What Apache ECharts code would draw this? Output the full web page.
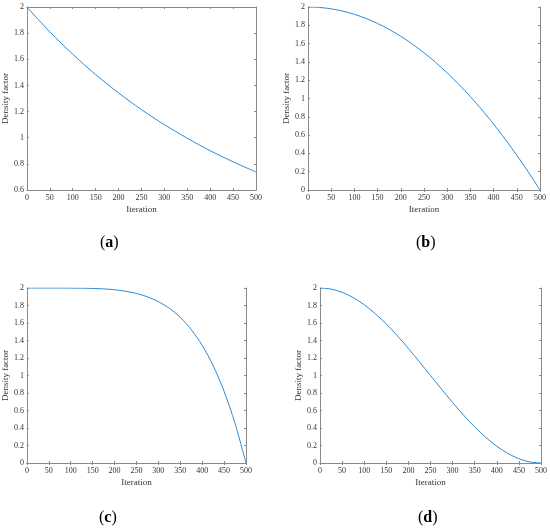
<!DOCTYPE html>
<html>
<head>
<meta charset="utf-8">
<script src="https://cdn.jsdelivr.net/npm/echarts@6/dist/echarts.min.js"></script>
<style>html,body{margin:0;padding:0;background:#fff;}#c{width:550px;height:531px;}</style>
</head>
<body>
<div id="c"></div>
<script>
const iterations = [0,25,50,75,100,125,150,175,200,225,250,275,300,325,350,375,400,425,450,475,500];
const xTicks = [0,50,100,150,200,250,300,350,400,450,500];
const densityA = [2.000,1.903,1.810,1.722,1.639,1.559,1.483,1.411,1.343,1.277,1.215,1.156,1.100,1.047,0.996,0.947,0.901,0.857,0.816,0.776,0.738];
const densityB = [2.00,1.995,1.98,1.955,1.92,1.875,1.82,1.755,1.68,1.595,1.50,1.395,1.28,1.155,1.02,0.875,0.72,0.555,0.38,0.195,0.00];
const densityC = [2.00,2.00,2.00,2.00,1.999,1.998,1.995,1.99,1.98,1.963,1.938,1.899,1.844,1.768,1.664,1.525,1.345,1.113,0.819,0.452,0.00];
const densityD = [2.00,1.988,1.951,1.891,1.809,1.707,1.588,1.454,1.309,1.156,1.00,0.844,0.691,0.546,0.412,0.293,0.191,0.109,0.049,0.012,0.00];
const captions = ['a','b','c','d'];
const yMins = [0.6,0,0,0];

const panels = [
  {grid:{left:24,top:7,width:232,height:183}, data:densityA, cap:{x:112,y:245}},
  {grid:{left:308,top:7,width:232,height:183}, data:densityB, cap:{x:428,y:245}},
  {grid:{left:24,top:288,width:222,height:175}, data:densityC, cap:{x:111,y:520}},
  {grid:{left:320,top:288,width:221,height:175}, data:densityD, cap:{x:430,y:520}}
];

const font = 'Liberation Serif';
const axisCol = '#8a8a8a';
const grids=[], xAxes=[], yAxes=[], series=[], graphics=[];
panels.forEach((p,i)=>{
  grids.push(Object.assign({containLabel:false}, p.grid));
  const common = {type:'value', gridIndex:i, min:0, max:500, interval:50,
    axisLine:{show:true,lineStyle:{color:axisCol,width:1}},
    axisTick:{show:true,inside:true,length:2,lineStyle:{color:axisCol}},
    splitLine:{show:false}};
  xAxes.push(Object.assign({}, common, {position:'bottom',
    axisLabel:{show:true,fontFamily:font,fontSize:8,color:'#333',margin:4},
    name:'Iteration', nameLocation:'middle', nameGap:15,
    nameTextStyle:{fontFamily:font,fontSize:9,color:'#333'}}));
  xAxes.push(Object.assign({}, common, {position:'top', axisLabel:{show:false}}));
  const ycommon = {type:'value', gridIndex:i, min:yMins[i], max:2, interval:0.2,
    axisLine:{show:true,onZero:false,lineStyle:{color:axisCol,width:1}},
    axisTick:{show:true,inside:true,length:2,lineStyle:{color:axisCol}},
    splitLine:{show:false}};
  yAxes.push(Object.assign({}, ycommon, {position:'left',
    axisLabel:{show:true,fontFamily:font,fontSize:8,color:'#333',margin:3,
      formatter:v=>String(Math.round(v*10)/10)},
    name:'Density factor', nameLocation:'middle', nameGap:15,
    nameTextStyle:{fontFamily:font,fontSize:9,color:'#333'}}));
  yAxes.push(Object.assign({}, ycommon, {position:'right', axisLabel:{show:false}}));
  series.push({type:'line', xAxisIndex:i*2, yAxisIndex:i*2, smooth:0.3, showSymbol:false,
    data:iterations.map((x,k)=>[x,p.data[k]]),
    lineStyle:{color:'#2c8ad6',width:1}, itemStyle:{color:'#2c8ad6'}, animation:false});
  graphics.push({type:'text', left:p.cap.x-12, top:p.cap.y-10,
    style:{rich:{p:{fontFamily:font,fontSize:16,fill:'#000'},b:{fontFamily:font,fontSize:16,fontWeight:'bold',fill:'#000'}},
      text:'{p|(}{b|'+captions[i]+'}{p|)}'}});
});
const chart = echarts.init(document.getElementById('c'), null, {renderer:'canvas'});
chart.setOption({animation:false, grid:grids, xAxis:xAxes, yAxis:yAxes, series:series, graphic:graphics});
</script>
</body>
</html>
